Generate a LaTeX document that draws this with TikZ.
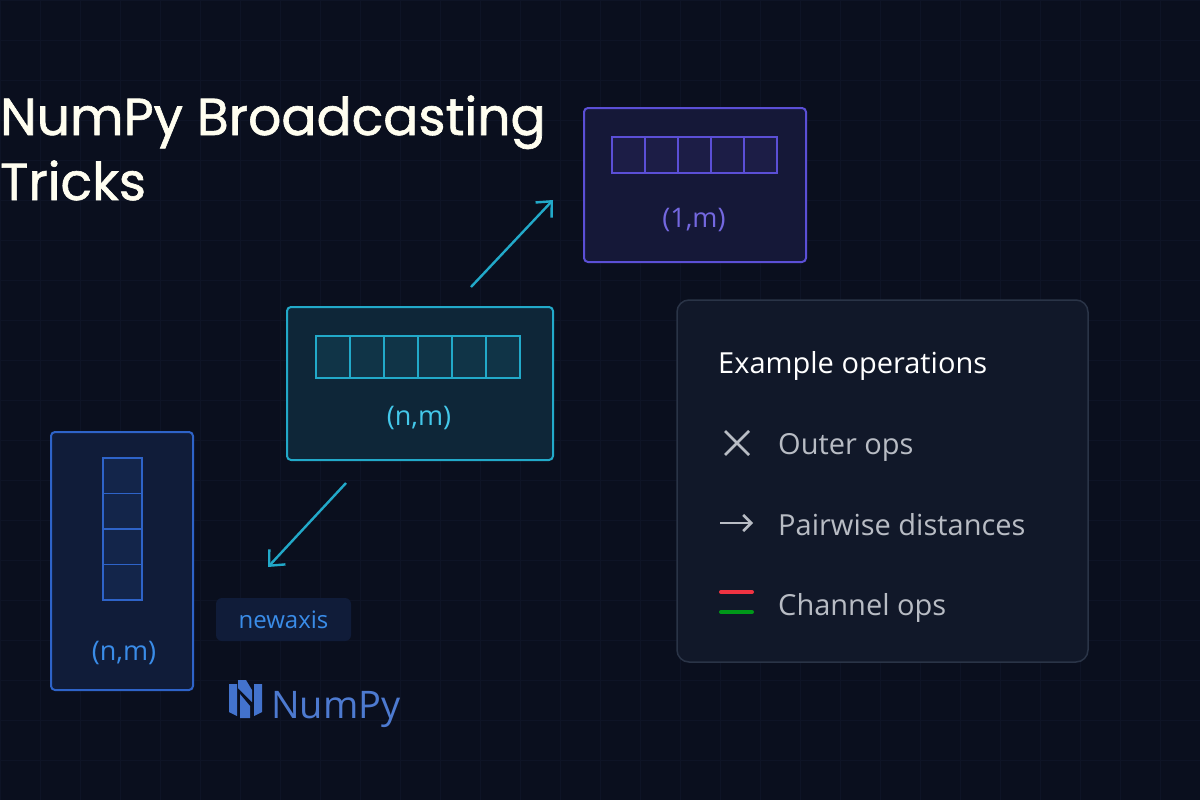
\documentclass[tikz,border=0pt]{standalone}
\usetikzlibrary{arrows.meta}
\usepackage{fontspec}
\setmainfont{Open Sans}
\newfontfamily\titlefont[FakeBold=1.2]{Poppins}
\begin{document}
\definecolor{bg}{HTML}{0A0F1E}
\definecolor{gridc}{HTML}{0E1426}
\definecolor{purp}{HTML}{5B4FD6}
\definecolor{purpt}{HTML}{7468E0}
\definecolor{cyanb}{HTML}{22A9C9}
\definecolor{cyant}{HTML}{44C8EA}
\definecolor{blueb}{HTML}{2E63C8}
\definecolor{bluet}{HTML}{3A8CE8}
\definecolor{legb}{HTML}{2A3447}
\definecolor{legf}{HTML}{111829}
\definecolor{greyt}{HTML}{B8BCC4}
\begin{tikzpicture}[x=1pt,y=-1pt,
  card/.style={rounded corners=4pt,line width=2pt},
  cell/.style={line width=1.6pt},
  arr/.style={line width=2.4pt,color=cyanb,-{Straight Barb[length=12pt,width=22pt]}},
  lbl/.style={font=\fontsize{27}{30}\selectfont,anchor=base},
  item/.style={font=\fontsize{29}{32}\selectfont,text=greyt,anchor=base west}]
\fill[bg] (0,0) rectangle (1200,800);
\useasboundingbox (0,0) rectangle (1200,800);
\foreach \i in {0,40,...,1200} \draw[gridc,line width=0.5pt] (\i,0) -- (\i,800);
\foreach \i in {0,40,...,800} \draw[gridc,line width=0.5pt] (0,\i) -- (1200,\i);
% title
\node[anchor=base west,inner sep=0,text=white!94!yellow,font=\titlefont\fontsize{52}{60}\selectfont] (t1) at (0,135) {NumPy Broadcasting};
\node[anchor=base west,inner sep=0,text=white!94!yellow,font=\titlefont\fontsize{52}{60}\selectfont] (t2) at (0,200) {Tricks};
% (1,m)
\draw[card,draw=purp,fill=purp!14!bg] (584,108) rectangle (806,262);
\node[draw=purp,fill=purp!22!bg,cell,minimum width=165pt,minimum height=36pt,inner sep=0] (b1) at (694.5,155) {};
\foreach \k in {1,...,4} \draw[purp,cell] (612+\k*33,137) -- (612+\k*33,173);
\node[lbl,text=purpt] (l1) at (694,227) {(1,m)};
% (n,m) middle
\draw[card,draw=cyanb,fill=cyanb!15!bg] (287,307) rectangle (553,460);
\node[draw=cyanb,fill=cyanb!24!bg,cell,minimum width=204pt,minimum height=42pt,inner sep=0] (b2) at (418,357) {};
\foreach \k in {1,...,5} \draw[cyanb,cell] (316+\k*34,336) -- (316+\k*34,378);
\node[lbl,text=cyant] (l2) at (419,425) {(n,m)};
% left
\draw[card,draw=blueb,fill=blueb!16!bg] (51,432) rectangle (193,690);
\node[draw=blueb,fill=blueb!26!bg,cell,minimum width=39pt,minimum height=142pt,inner sep=0] (b3) at (122.5,529) {};
\foreach \k in {1,...,3} \draw[blueb,cell] (103,458+\k*35.5) -- (142,458+\k*35.5);
\node[lbl,text=bluet] (l3) at (124,660) {(n,m)};
% arrows
\coordinate (a1s) at (471,287); \coordinate (a1e) at (553,200);
\coordinate (a2s) at (346,483); \coordinate (a2e) at (268,567);
\draw[arr] (a1s) -- (a1e);
\draw[arr] (a2s) -- (a2e);
% newaxis
\node[fill=blueb!16!bg,rounded corners=6pt,minimum width=135pt,minimum height=43pt,text=bluet,font=\fontsize{24}{26}\selectfont] (na) at (283.5,619.5) {newaxis};
% logo
\begin{scope}[fill=blueb!90!white]
\fill (229,684) -- (237,684) -- (237,716) -- (229,712) -- cycle;
\fill (238,680) -- (246,680) -- (252,690) -- (252,702) -- (238,688) -- cycle;
\fill (240,694) -- (250,706) -- (250,718) -- (240,718) -- cycle;
\fill (254,684) -- (262,684) -- (262,712) -- (254,716) -- cycle;
\end{scope}
\node[anchor=base west,inner sep=0,text=blueb!85!white,font=\fontsize{38}{42}\selectfont] (np) at (271,718) {NumPy};
% legend
\draw[rounded corners=12pt,draw=legb,fill=legf,line width=1.5pt] (677,300) rectangle (1088,662);
\node[anchor=base west,inner sep=0,text=white!95,font=\fontsize{29}{32}\selectfont] (eh) at (718,373) {Example operations};
\draw[greyt,line width=2.5pt] (725,431) -- (749,455) (725,455) -- (749,431);
\node[item,inner sep=0] (i1) at (778,454) {Outer ops};
\draw[greyt,line width=2.5pt,-{Straight Barb[length=8pt,width=16pt]}] (720,523) -- (753,523);
\node[item,inner sep=0] (i2) at (778,535) {Pairwise distances};
\draw[red!70!purple!80!white,line width=4pt,line cap=round] (721,592) -- (752,592);
\draw[green!55!black!90!cyan,line width=4pt,line cap=round] (721,612) -- (752,612);
\node[item,inner sep=0] (i3) at (778,615) {Channel ops};
\end{tikzpicture}
\end{document}
